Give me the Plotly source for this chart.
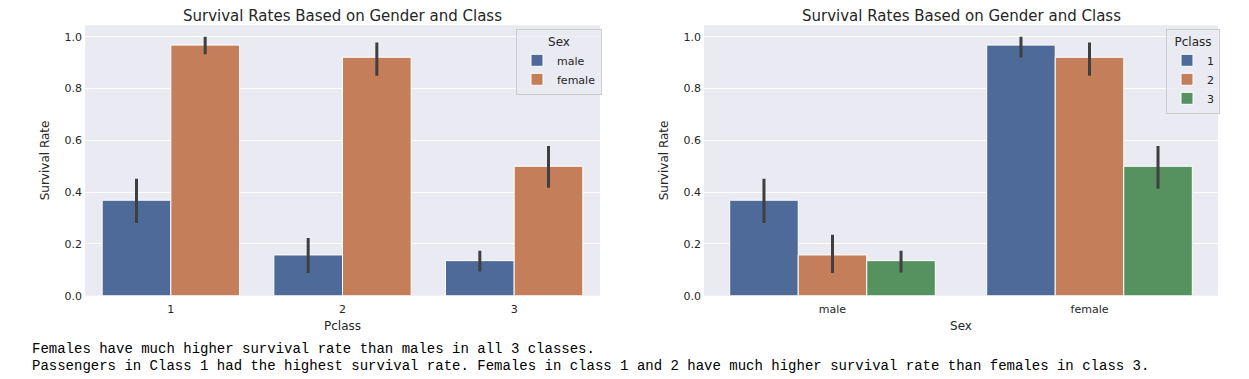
import plotly.graph_objects as go

# ---------------- data ----------------
pclass_labels = ["1", "2", "3"]
sex_labels = ["male", "female"]

rate_male = [0.3689, 0.1574, 0.1354]      # survival rate by class, males
rate_female = [0.9681, 0.9211, 0.5000]    # survival rate by class, females

# confidence intervals, left chart (x = Pclass)
ci_lo_male_left = [0.281, 0.088, 0.093]
ci_hi_male_left = [0.452, 0.223, 0.174]
ci_lo_female_left = [0.933, 0.850, 0.417]
ci_hi_female_left = [1.000, 0.978, 0.578]

# confidence intervals, right chart (x = Sex), per class: [male, female]
ci_lo_right = {"1": [0.281, 0.920], "2": [0.088, 0.850], "3": [0.090, 0.413]}
ci_hi_right = {"1": [0.452, 1.000], "2": [0.235, 0.978], "3": [0.174, 0.578]}

title_text = "Survival Rates Based on Gender and Class"
note_lines = [
    "Females have much higher survival rate than males in all 3 classes.",
    "Passengers in Class 1 had the highest survival rate. Females in class 1 and 2 have much higher survival rate than females in class 3.",
]

# ---------------- style ----------------
PAGE_W = 1249
OFF = 8            # default body margin of the html page
VS = 379 / 387     # vertical scale observed between page and picture
W, H = PAGE_W - OFF, 371
BLUE, ORANGE, GREEN = "#4D6A98", "#C47E5A", "#55925F"
ERR = "#3F3F3F"
TXT = "#262626"
BG = "#EAEAF2"
FONT = "DejaVu Sans"

def px_x(p):
    return (p - OFF) / W

def px_y(p):
    return 1 - (p / VS - OFF) / H

fig = go.Figure()

def err(vals, lo, hi):
    return dict(type="data", symmetric=False,
                array=[h - v for v, h in zip(vals, hi)],
                arrayminus=[v - l for v, l in zip(vals, lo)],
                color=ERR, thickness=3, width=0)

# left chart
fig.add_trace(go.Bar(x=pclass_labels, y=rate_male, name="male",
                     marker=dict(color=BLUE, line=dict(color="white", width=1)),
                     error_y=err(rate_male, ci_lo_male_left, ci_hi_male_left),
                     xaxis="x", yaxis="y", legend="legend", offsetgroup="m"))
fig.add_trace(go.Bar(x=pclass_labels, y=rate_female, name="female",
                     marker=dict(color=ORANGE, line=dict(color="white", width=1)),
                     error_y=err(rate_female, ci_lo_female_left, ci_hi_female_left),
                     xaxis="x", yaxis="y", legend="legend", offsetgroup="f"))

# right chart
colors = {"1": BLUE, "2": ORANGE, "3": GREEN}
for i, c in enumerate(pclass_labels):
    vals = [rate_male[i], rate_female[i]]
    fig.add_trace(go.Bar(x=sex_labels, y=vals, name=c,
                         marker=dict(color=colors[c], line=dict(color="white", width=1)),
                         error_y=err(vals, ci_lo_right[c], ci_hi_right[c]),
                         xaxis="x2", yaxis="y2", legend="legend2", offsetgroup="c" + c))

y_dom = [px_y(295), px_y(25)]
axis_common_y = dict(range=[0, 1.045], dtick=0.2, tickformat=".1f", showgrid=True,
                     gridcolor="white", gridwidth=1, zeroline=False, showline=False,
                     ticks="", tickfont=dict(size=11, color=TXT, family=FONT), ticklabelstandoff=2,
                     title=dict(text="Survival Rate", font=dict(size=12, color=TXT, family=FONT), standoff=12),
                     domain=y_dom)
axis_common_x = dict(type="category", showgrid=False, zeroline=False, showline=False, ticks="",
                     tickfont=dict(size=11, color=TXT, family=FONT), ticklabelstandoff=5)

fig.update_layout(
    width=W, height=H,
    margin=dict(l=0, r=0, t=0, b=0),
    paper_bgcolor="white", plot_bgcolor=BG,
    barmode="group", bargap=0.2, bargroupgap=0,
    font=dict(family=FONT, color=TXT),
    xaxis=dict(axis_common_x, domain=[px_x(85), px_x(600)], anchor="y",
               title=dict(text="Pclass", font=dict(size=12, color=TXT), standoff=6)),
    yaxis=dict(axis_common_y, anchor="x"),
    xaxis2=dict(axis_common_x, domain=[px_x(704), px_x(1218)], anchor="y2",
                title=dict(text="Sex", font=dict(size=12, color=TXT), standoff=6)),
    yaxis2=dict(axis_common_y, anchor="x2"),
    legend=dict(x=px_x(516), y=px_y(29), xanchor="left", yanchor="top",
                bgcolor="rgba(234,234,242,0.8)", bordercolor="#CCCCCC", borderwidth=1,
                font=dict(size=11, color=TXT), title=dict(text="Sex", side="top center", font=dict(size=12)),
                tracegroupgap=0, itemwidth=30),
    legend2=dict(x=px_x(1166), y=px_y(29), xanchor="left", yanchor="top",
                 bgcolor="rgba(234,234,242,0.8)", bordercolor="#CCCCCC", borderwidth=1,
                 font=dict(size=11, color=TXT), title=dict(text="Pclass", side="top center", font=dict(size=12)),
                 tracegroupgap=0, itemwidth=30),
    showlegend=True,
)

title_y = 1 + 2 / H
annotations = [
    dict(text=title_text, x=(px_x(85) + px_x(600)) / 2, y=title_y, xref="paper", yref="paper",
         showarrow=False, xanchor="center", yanchor="top", borderpad=0,
         font=dict(size=15, color=TXT, family=FONT)),
    dict(text=title_text, x=(px_x(704) + px_x(1218)) / 2, y=title_y, xref="paper", yref="paper",
         showarrow=False, xanchor="center", yanchor="top", borderpad=0,
         font=dict(size=15, color=TXT, family=FONT)),
]
for k, line in enumerate(note_lines):
    annotations.append(dict(text=line, x=px_x(31), y=px_y(348 + 17 * k), xref="paper", yref="paper",
                            showarrow=False, xanchor="left", yanchor="middle", borderpad=0,
                            font=dict(size=14, color="black", family="Liberation Mono")))
fig.update_layout(annotations=annotations)

fig.write_html("out.html")
